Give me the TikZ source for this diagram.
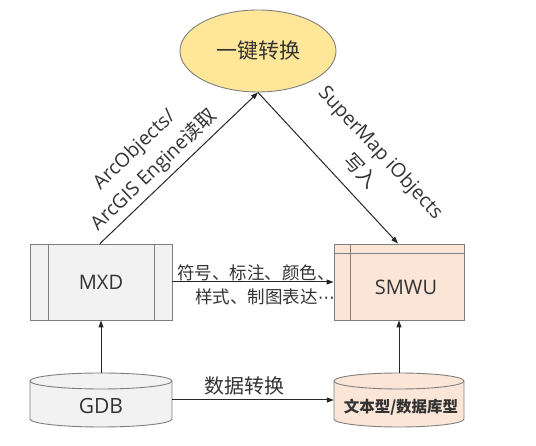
\documentclass[tikz,border=0pt]{standalone}
\usepackage{fontspec}
\setmainfont{Noto Sans CJK SC}
\newfontfamily\lat{Open Sans}
\newfontfamily\dejavu{DejaVu Sans}
\usetikzlibrary{shapes.geometric,arrows.meta}
\definecolor{grayfill}{HTML}{F2F2F2}
\definecolor{peach}{HTML}{FBE5D6}
\definecolor{yellowfill}{HTML}{FFE699}
\definecolor{edgegray}{HTML}{7F7F7F}
\definecolor{txt}{HTML}{333333}
\begin{document}
\begin{tikzpicture}[x=1pt,y=1pt,
  every node/.style={text=txt},
  box/.style={draw=edgegray, line width=0.9pt, minimum height=76pt, inner sep=0pt, font=\lat\fontsize{20}{24}\selectfont},
  boxline/.style={draw=edgegray, line width=0.9pt},
  oval/.style={ellipse, draw=edgegray, line width=0.9pt, minimum width=156pt, minimum height=82pt, inner sep=0pt, font=\fontsize{21}{25}\selectfont},
  cyl/.style={draw=edgegray, line width=0.9pt},
  cylnode/.style={minimum height=54pt, inner sep=0pt},
  arr/.style={-{Triangle[length=7pt,width=5pt]}, line width=1pt, draw=black!85},
  lab/.style={font=\fontsize{19.5}{28}\selectfont, align=center, inner sep=1pt}
]
\useasboundingbox (0,0) rectangle (536,446);

% top ellipse
\node[oval, fill=yellowfill] (one) at (258,395) {一键转换};

% MXD box
\node[box, fill=grayfill, minimum width=142pt] (mxd) at (101,164) {MXD};
\draw[boxline] (48,126) -- (48,202);
\draw[boxline] (154,126) -- (154,202);

% SMWU box
\node[box, fill=peach, minimum width=130pt] (smwu) at (399,164) {};
\draw[boxline] (350,126) -- (350,202);
\draw[boxline] (334,193) -- (464,193);
\node[font=\lat\fontsize{20}{24}\selectfont] (smwut) at (406,159) {SMWU};

% GDB cylinder
\filldraw[cyl, fill=grayfill] (30,65) -- (30,27) arc[start angle=180,end angle=360,x radius=71,y radius=8] -- (172,65) arc[start angle=0,end angle=180,x radius=71,y radius=8] -- cycle;
\draw[cyl] (30,65) arc[start angle=180,end angle=360,x radius=71,y radius=8];
\node[cylnode, minimum width=142pt] (gdb) at (101,46) {};
\node[font=\lat\fontsize{21}{24}\selectfont] (gdbt) at (101,40) {GDB};

% right cylinder
\filldraw[cyl, fill=peach] (334,65) -- (334,27) arc[start angle=180,end angle=360,x radius=65,y radius=8] -- (464,65) arc[start angle=0,end angle=180,x radius=65,y radius=8] -- cycle;
\draw[cyl] (334,65) arc[start angle=180,end angle=360,x radius=65,y radius=8];
\node[cylnode, minimum width=130pt] (db) at (399,46) {};
\node[font=\fontsize{15.5}{19}\selectfont\bfseries] (dbt) at (401,39) {文本型/数据库型};

% connectors
\draw[arr] ([xshift=-1pt]mxd.north) -- (one.south)
  node[lab, pos=0.41, sloped, above=4pt] {{\lat ArcObjects/}\\{\lat ArcGIS Engine}读取};
\draw[arr] (one.south) -- ([xshift=-1pt]smwu.north)
  node[lab, pos=0.62, sloped, above=12pt] {{\lat SuperMap iObjects}\\写入};
\draw[arr] (mxd.east) -- (smwu.west)
  node[lab, midway, xshift=3pt, yshift=-3pt, align=right, font=\fontsize{17.5}{24}\selectfont] {符号、标注、颜色、\\样式、制图表达{\dejavu\fontsize{17}{24}\selectfont ⋯}};
\draw[arr] (gdb.east) -- (db.west)
  node[midway, above, xshift=-9pt, yshift=1pt, font=\fontsize{20}{24}\selectfont] {数据转换};
\draw[arr] (gdb.north) -- (mxd.south);
\draw[arr] (db.north) -- (smwu.south);
\end{tikzpicture}
\end{document}
